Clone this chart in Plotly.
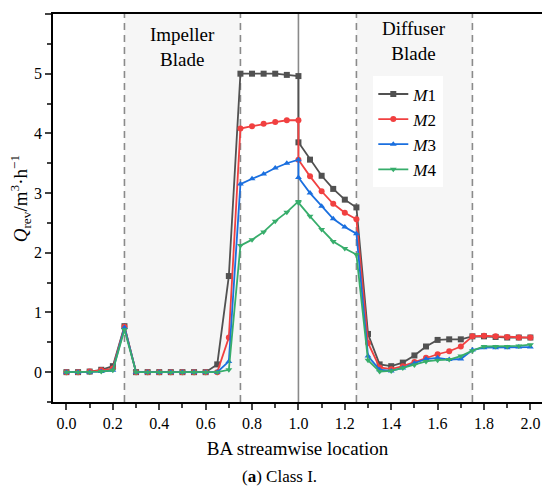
import plotly.graph_objects as go

# BA streamwise location (1.0 appears twice: jump between impeller and diffuser side)
location = [0.0, 0.05, 0.1, 0.15, 0.2, 0.25, 0.3, 0.35, 0.4, 0.45, 0.5, 0.55, 0.6, 0.65, 0.7,
            0.75, 0.8, 0.85, 0.9, 0.95, 1.0, 1.0, 1.05, 1.1, 1.15, 1.2, 1.25,
            1.3, 1.35, 1.4, 1.45, 1.5, 1.55, 1.6, 1.65, 1.7, 1.75, 1.8, 1.85, 1.9, 1.95, 2.0]

m1 = [0.0, 0.0, 0.01, 0.04, 0.10, 0.77, 0.0, 0.0, 0.0, 0.0, 0.0, 0.0, 0.0, 0.13, 1.61,
      5.00, 5.00, 5.00, 5.00, 4.98, 4.96, 3.85, 3.56, 3.29, 3.07, 2.89, 2.76,
      0.64, 0.13, 0.10, 0.16, 0.28, 0.43, 0.54, 0.55, 0.55, 0.60, 0.60, 0.59, 0.58, 0.58, 0.58]
m2 = [0.0, 0.0, 0.01, 0.03, 0.06, 0.76, 0.0, 0.0, 0.0, 0.0, 0.0, 0.0, 0.0, 0.0, 0.58,
      4.08, 4.12, 4.16, 4.19, 4.22, 4.22, 3.56, 3.28, 3.03, 2.82, 2.67, 2.56,
      0.49, 0.08, 0.05, 0.10, 0.17, 0.24, 0.30, 0.35, 0.43, 0.60, 0.61, 0.60, 0.59, 0.58, 0.58]
m3 = [0.0, 0.0, 0.0, 0.01, 0.03, 0.75, 0.0, 0.0, 0.0, 0.0, 0.0, 0.0, 0.0, 0.0, 0.18,
      3.15, 3.24, 3.32, 3.42, 3.50, 3.56, 3.26, 3.00, 2.78, 2.57, 2.43, 2.32,
      0.27, 0.04, 0.02, 0.07, 0.15, 0.22, 0.24, 0.21, 0.22, 0.37, 0.41, 0.41, 0.41, 0.42, 0.42]
m4 = [0.0, 0.0, 0.0, 0.01, 0.03, 0.71, 0.0, 0.0, 0.0, 0.0, 0.0, 0.0, 0.0, 0.0, 0.04,
      2.12, 2.22, 2.35, 2.53, 2.68, 2.86, 2.84, 2.61, 2.39, 2.19, 2.07, 1.97,
      0.20, 0.01, 0.02, 0.07, 0.12, 0.18, 0.20, 0.21, 0.27, 0.36, 0.43, 0.43, 0.43, 0.44, 0.46]

series_names = ["<i>M</i>1", "<i>M</i>2", "<i>M</i>3", "<i>M</i>4"]
colors = ["#515151", "#F14040", "#1A6FDF", "#37AD6B"]
symbols = ["square", "circle", "triangle-up", "triangle-down"]

blade_regions = [(0.25, 0.75), (1.25, 1.75)]
blade_labels = ["Impeller<br>Blade", "Diffuser<br>Blade"]
label_y = [5.45, 5.55]

serif = "Liberation Serif, Times New Roman, serif"

fig = go.Figure()

for name, ys, col, sym in zip(series_names, [m1, m2, m3, m4], colors, symbols):
    fig.add_trace(go.Scatter(
        x=location, y=ys, name=name, mode="lines+markers",
        line=dict(color=col, width=1.8),
        marker=dict(symbol=sym, size=6, color=col),
    ))

shapes = []
for x0, x1 in blade_regions:
    shapes.append(dict(type="rect", xref="x", yref="paper", x0=x0, x1=x1, y0=0, y1=1,
                       fillcolor="#f6f6f6", line=dict(width=0), layer="below"))
    for xv in (x0, x1):
        shapes.append(dict(type="line", xref="x", yref="paper", x0=xv, x1=xv, y0=0, y1=1,
                           line=dict(color="#8a8a8a", width=1.6, dash="7px,5px"), layer="below"))
shapes.append(dict(type="line", xref="x", yref="paper", x0=1.0, x1=1.0, y0=0, y1=1,
                   line=dict(color="#8a8a8a", width=1.6), layer="below"))

annotations = []
for (x0, x1), lab, ly in zip(blade_regions, blade_labels, label_y):
    annotations.append(dict(x=(x0 + x1) / 2, y=ly, xref="x", yref="y", text=lab,
                            showarrow=False, font=dict(family=serif, size=19, color="black"),
                            yanchor="middle"))
annotations.append(dict(x=-0.0675, y=0.525, xref="paper", yref="paper", textangle=-90,
                        text="<i>Q</i><sub>rev</sub>/m<sup>3</sup>·h<sup>−1</sup>",
                        showarrow=False, font=dict(family=serif, size=19, color="black"),
                        xanchor="center", yanchor="middle"))
annotations.append(dict(x=0.464, y=-0.192, xref="paper", yref="paper",
                        text="(<b>a</b>) Class I.", showarrow=False,
                        font=dict(family=serif, size=17, color="black"),
                        xanchor="center", yanchor="middle"))

# page body adds an 8px margin, so the figure is a bit smaller than the window
fig.update_layout(
    width=542, height=483,
    margin=dict(l=45, r=8, t=4, b=89),
    paper_bgcolor="white", plot_bgcolor="white",
    font=dict(family=serif, size=16, color="black"),
    shapes=shapes,
    annotations=annotations,
    legend=dict(x=0.655, y=0.839, xanchor="left", yanchor="top",
                bgcolor="white", font=dict(family=serif, size=17)),
    xaxis=dict(range=[-0.058, 2.05], dtick=0.2, tick0=0, tickformat=".1f",
               ticks="outside", ticklen=6, tickwidth=1.5,
               minor=dict(dtick=0.1, ticks="outside", ticklen=4, tickwidth=1.5),
               showline=True, linecolor="black", linewidth=1.8, mirror=True,
               showgrid=False, zeroline=False,
               title=dict(text="BA streamwise location", font=dict(family=serif, size=19),
                          standoff=11)),
    yaxis=dict(range=[-0.5, 6], dtick=1, tick0=0,
               ticks="outside", ticklen=6, tickwidth=1.5,
               minor=dict(dtick=0.5, ticks="outside", ticklen=4, tickwidth=1.5),
               showline=True, linecolor="black", linewidth=1.8, mirror=True,
               showgrid=False, zeroline=False),
)

fig.write_html("out.html")
